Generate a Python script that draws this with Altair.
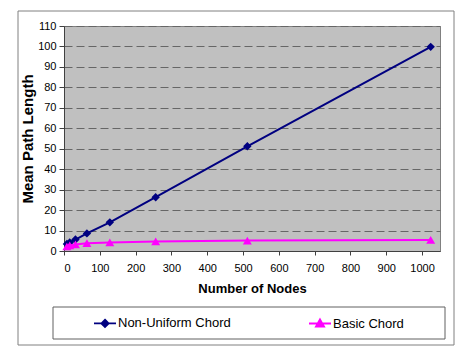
import altair as alt
import pandas as pd

# ---- data ----
nodes = [8, 16, 32, 64, 128, 256, 512, 1024]
non_uniform = [3.4, 4.2, 5.6, 8.6, 14.0, 26.3, 51.2, 99.8]
basic = [2.2, 2.7, 3.2, 3.8, 4.2, 4.7, 5.1, 5.4]
series_names = ["Non-Uniform Chord", "Basic Chord"]
series_colors = ["#000080", "#FF00FF"]
series_shapes = ["diamond", "triangle-up"]
x_ticks = list(range(0, 1001, 100))
y_ticks = list(range(0, 111, 10))

rows = []
for n, v in zip(nodes, non_uniform):
    rows.append({"nodes": n, "value": v, "series": series_names[0]})
for n, v in zip(nodes, basic):
    rows.append({"nodes": n, "value": v, "series": series_names[1]})
df = pd.DataFrame(rows)

FONT = "Liberation Sans"

x_axis = alt.Axis(
    values=x_ticks, title="Number of Nodes", grid=False, format="d",
    labelFontSize=11, labelColor="#000", labelPadding=7,
    titleFontSize=13, titleFontWeight="bold", titleColor="#000",
    titlePadding=9, tickSize=4, tickColor="#404040",
    domainColor="#404040", labelFont=FONT, titleFont=FONT,
)
y_axis = alt.Axis(
    values=y_ticks, title="Mean Path Length", grid=True,
    gridColor="#666666", gridDash=[8, 4], gridWidth=1,
    labelFontSize=11, labelColor="#000", labelPadding=3,
    titleFontSize=15, titleFontWeight="bold", titleColor="#000",
    titlePadding=2, tickSize=5, tickColor="#404040",
    domainColor="#404040", labelFont=FONT, titleFont=FONT,
)
x_scale = alt.Scale(domain=[0, 1050], nice=False, zero=True)
y_scale = alt.Scale(domain=[0, 110], nice=False)


def X():
    return alt.X("nodes:Q", scale=x_scale, axis=x_axis)


def Y(field="value:Q"):
    return alt.Y(field, scale=y_scale, axis=y_axis)


base = alt.Chart(df)

series_layers = []
for name, col, shp in zip(series_names, series_colors, series_shapes):
    sub = base.transform_filter(alt.datum.series == name)
    series_layers.append(sub.mark_line(strokeWidth=2, color=col).encode(x=X(), y=Y()))
    series_layers.append(
        sub.mark_point(shape=shp, filled=True, color=col, opacity=1,
                       size=70 if shp == "diamond" else 80).encode(x=X(), y=Y())
    )

# legend symbols: short line with the marker in the middle
diamond_path = "M-1,0L1,0M0,-0.33L0.33,0L0,0.33L-0.33,0Z"
triangle_path = "M-1,0L1,0M0,-0.37L0.37,0.28L-0.37,0.28Z"
color_scale = alt.Scale(domain=series_names, range=series_colors)
shape_scale = alt.Scale(domain=series_names, range=[diamond_path, triangle_path])

leg = alt.Legend(orient="none", legendX=29, legendY=285,
                 columns=2, columnPadding=74, padding=0,
                 labelFontSize=13, labelFont=FONT,
                 labelColor="#000", labelOffset=1,
                 symbolSize=484, symbolStrokeWidth=1.8,
                 labelLimit=300)

# legend-only layer: marks pushed far outside the plot and clipped away
legend_layer = base.transform_calculate(hidden="-1000").mark_point(
    filled=True, clip=True, strokeWidth=1.8, opacity=1
).encode(
    x=X(), y=Y("hidden:Q"),
    fill=alt.Fill("series:N", scale=color_scale, title=None, legend=leg),
    stroke=alt.Stroke("series:N", scale=color_scale, title=None, legend=leg),
    shape=alt.Shape("series:N", scale=shape_scale, title=None, legend=leg),
)

# decorative frames (outer chart border and legend box)
frame_df = pd.DataFrame({"k": [0]})
outer_frame = alt.Chart(frame_df).mark_rect(
    fillOpacity=0, stroke="#808080", strokeWidth=1
).encode(x=alt.value(-46), x2=alt.value(390), y=alt.value(-15), y2=alt.value(319))
legend_box = alt.Chart(frame_df).mark_rect(
    fillOpacity=0, stroke="#606060", strokeWidth=1
).encode(x=alt.value(-11), x2=alt.value(381), y=alt.value(281), y2=alt.value(313))

chart = alt.layer(
    *series_layers, legend_layer, outer_frame, legend_box
).properties(
    width=376, height=225,
    padding={"left": 64, "top": 26, "right": 34, "bottom": 106},
    autosize=alt.AutoSizeParams(type="none"),
    background="white",
).configure(
    font=FONT
).configure_view(
    fill="#C0C0C0", stroke="#808080", strokeWidth=1
)

chart.save("out.html", embed_options={"renderer": "svg", "actions": False})
